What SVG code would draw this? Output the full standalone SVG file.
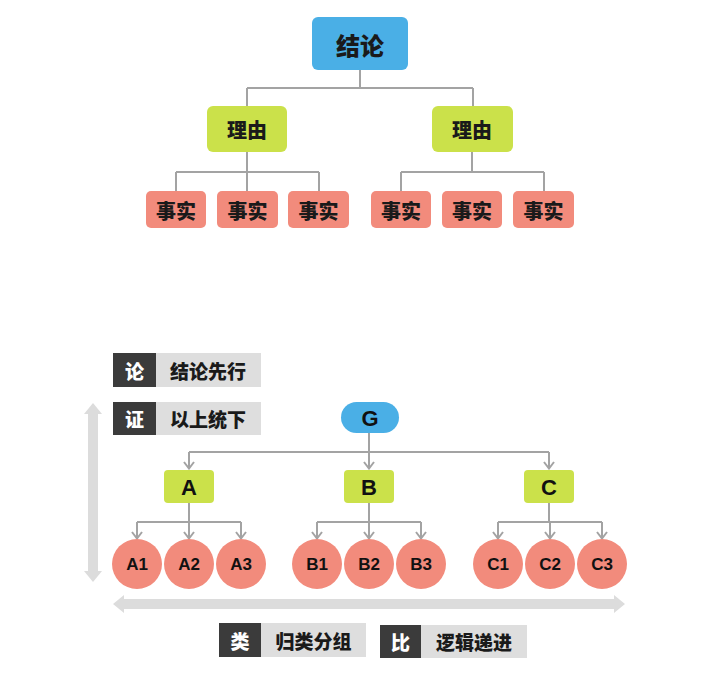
<svg xmlns="http://www.w3.org/2000/svg" width="720" height="686" viewBox="0 0 720 686">
<defs>
<style>
.cn{font-family:"Noto Sans CJK SC","Noto Sans",sans-serif;font-weight:900;fill:#1a1a1a;text-anchor:middle;dominant-baseline:central}
.lt{font-family:"Liberation Sans",Arial,sans-serif;font-weight:bold;fill:#111;text-anchor:middle;dominant-baseline:central}
.blue{fill:#4aafe6}
.lime{fill:#cbe14a}
.red{fill:#f28b7c}
.dark{fill:#3b3b3b}
.light{fill:#dedede}
.wt{fill:#ffffff}
.conn{fill:none;stroke:#a3a3a3;stroke-width:2}
.big{fill:#dcdcdc}
</style>
<marker id="arr" viewBox="0 0 10 12" refX="9" refY="6" markerWidth="10" markerHeight="12" markerUnits="userSpaceOnUse" orient="auto">
<path d="M2,1 L8.5,6 L2,11" fill="none" stroke="#a3a3a3" stroke-width="2"/>
</marker>
</defs>
<rect width="720" height="686" fill="#ffffff"/>

<g id="connectors">
<path class="conn" d="M360,70 V88 M247,88 H473 M247,88 V106 M473,88 V106"/>
<path class="conn" d="M247,152 V172 M176,172 H319 M176,172 V191 M247,172 V191 M319,172 V191"/>
<path class="conn" d="M472,152 V172 M401,172 H544 M401,172 V191 M544,172 V191"/>
<path class="conn" d="M369,433 V452 M189,452 H549"/>
<path class="conn" d="M189,452 V469" marker-end="url(#arr)"/>
<path class="conn" d="M369,452 V469" marker-end="url(#arr)"/>
<path class="conn" d="M549,452 V469" marker-end="url(#arr)"/>
<path class="conn" d="M189,503 V522 M137,522 H241 M317,522 H421 M369,503 V522 M498,522 H602 M549,503 V522"/>
<path class="conn" d="M137,522 V539" marker-end="url(#arr)"/>
<path class="conn" d="M189,522 V539" marker-end="url(#arr)"/>
<path class="conn" d="M241,522 V539" marker-end="url(#arr)"/>
<path class="conn" d="M317,522 V539" marker-end="url(#arr)"/>
<path class="conn" d="M369,522 V539" marker-end="url(#arr)"/>
<path class="conn" d="M421,522 V539" marker-end="url(#arr)"/>
<path class="conn" d="M498,522 V539" marker-end="url(#arr)"/>
<path class="conn" d="M550,522 V539" marker-end="url(#arr)"/>
<path class="conn" d="M602,522 V539" marker-end="url(#arr)"/>
</g>

<g id="big-arrows">
<path class="big" d="M93,403 L102,414 L98,414 L98,571 L102,571 L93,582 L84,571 L88,571 L88,414 L84,414 Z"/>
<path class="big" d="M113,604 L124,595 L124,599 L614,599 L614,595 L625,604 L614,613 L614,609 L124,609 L124,613 Z"/>
</g>

<g id="n-jielun"><rect class="blue" x="312" y="17" width="96" height="53" rx="6"/><text class="cn" x="360" y="44" font-size="24">结论</text></g>
<g id="n-liyou1"><rect class="lime" x="207" y="106" width="80" height="46" rx="6"/><text class="cn" x="247" y="129" font-size="20">理由</text></g>
<g id="n-liyou2"><rect class="lime" x="432" y="106" width="81" height="46" rx="6"/><text class="cn" x="472" y="129" font-size="20">理由</text></g>
<g id="n-shishi1"><rect class="red" x="146" y="191" width="60" height="37" rx="5"/><text class="cn" x="176" y="210" font-size="20">事实</text></g>
<g id="n-shishi2"><rect class="red" x="217" y="191" width="61" height="37" rx="5"/><text class="cn" x="247.5" y="210" font-size="20">事实</text></g>
<g id="n-shishi3"><rect class="red" x="288" y="191" width="61" height="37" rx="5"/><text class="cn" x="318.5" y="210" font-size="20">事实</text></g>
<g id="n-shishi4"><rect class="red" x="371" y="191" width="60" height="37" rx="5"/><text class="cn" x="401" y="210" font-size="20">事实</text></g>
<g id="n-shishi5"><rect class="red" x="442" y="191" width="60" height="37" rx="5"/><text class="cn" x="472" y="210" font-size="20">事实</text></g>
<g id="n-shishi6"><rect class="red" x="513" y="191" width="61" height="37" rx="5"/><text class="cn" x="543.5" y="210" font-size="20">事实</text></g>

<g id="label-lun"><rect class="dark" x="113" y="353" width="43" height="34"/><rect class="light" x="156" y="353" width="105" height="34"/><text class="cn wt" x="134.5" y="370" font-size="19">论</text><text class="cn" x="208" y="370" font-size="19">结论先行</text></g>
<g id="label-zheng"><rect class="dark" x="113" y="402" width="43" height="33"/><rect class="light" x="156" y="402" width="105" height="33"/><text class="cn wt" x="134.5" y="418.5" font-size="19">证</text><text class="cn" x="208" y="418.5" font-size="19">以上统下</text></g>
<g id="label-lei"><rect class="dark" x="219" y="623" width="42" height="34"/><rect class="light" x="261" y="623" width="105" height="34"/><text class="cn wt" x="240" y="640" font-size="19">类</text><text class="cn" x="313.5" y="640" font-size="19">归类分组</text></g>
<g id="label-bi"><rect class="dark" x="380" y="625" width="41" height="33"/><rect class="light" x="421" y="625" width="106" height="33"/><text class="cn wt" x="400.5" y="641.5" font-size="19">比</text><text class="cn" x="474" y="641.5" font-size="19">逻辑递进</text></g>

<g id="n-G"><rect class="blue" x="341" y="402" width="58" height="31" rx="15.5"/><text class="lt" x="370" y="418" font-size="22">G</text></g>
<g id="n-A"><rect class="lime" x="164" y="470" width="50" height="33" rx="4"/><text class="lt" x="189" y="487" font-size="22">A</text></g>
<g id="n-B"><rect class="lime" x="344" y="470" width="50" height="33" rx="4"/><text class="lt" x="369" y="487" font-size="22">B</text></g>
<g id="n-C"><rect class="lime" x="524" y="470" width="50" height="33" rx="4"/><text class="lt" x="549" y="487" font-size="22">C</text></g>

<g id="n-A1"><circle class="red" cx="137" cy="564" r="25"/><text class="lt" x="137" y="564" font-size="17">A1</text></g>
<g id="n-A2"><circle class="red" cx="189" cy="564" r="25"/><text class="lt" x="189" y="564" font-size="17">A2</text></g>
<g id="n-A3"><circle class="red" cx="241" cy="564" r="25"/><text class="lt" x="241" y="564" font-size="17">A3</text></g>
<g id="n-B1"><circle class="red" cx="317" cy="564" r="25"/><text class="lt" x="317" y="564" font-size="17">B1</text></g>
<g id="n-B2"><circle class="red" cx="369" cy="564" r="25"/><text class="lt" x="369" y="564" font-size="17">B2</text></g>
<g id="n-B3"><circle class="red" cx="421" cy="564" r="25"/><text class="lt" x="421" y="564" font-size="17">B3</text></g>
<g id="n-C1"><circle class="red" cx="498" cy="564" r="25"/><text class="lt" x="498" y="564" font-size="17">C1</text></g>
<g id="n-C2"><circle class="red" cx="550" cy="564" r="25"/><text class="lt" x="550" y="564" font-size="17">C2</text></g>
<g id="n-C3"><circle class="red" cx="602" cy="564" r="25"/><text class="lt" x="602" y="564" font-size="17">C3</text></g>
</svg>
